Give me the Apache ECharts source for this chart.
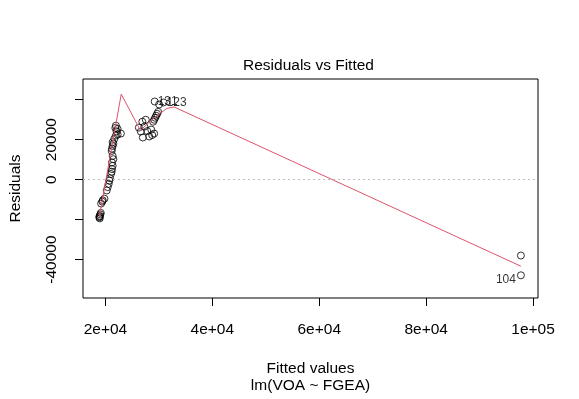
<!DOCTYPE html>
<html>
<head>
<meta charset="utf-8">
<script src="https://cdn.jsdelivr.net/npm/echarts@6/dist/echarts.min.js"></script>
<style>html,body{margin:0;padding:0;background:#fff;}#chart{width:579px;height:399px;}</style>
</head>
<body>
<div id="chart"></div>
<script>
// Fitted values (x) and residuals (y)
const fitted = [
  18853,18946,19038,19131,18946,18890,19186,19501,19815,19408,20240,20425,20610,20740,20851,21036,21165,21221,21350,21221,21479,21350,21165,21221,21350,21479,21350,21664,21960,22275,22885,22090,21849,21960,22275,
  26898,27545,27268,26620,27823,28562,29117,26990,28192,28747,26251,
  28932,29117,29302,29487,29672,29857,
  29209,30042,30874,
  97727,97727
];
const residuals = [
  -18913,-18172,-17431,-16690,-19406,-18419,-11999,-10370,-9530,-11012,-5432,-3753,-2123,-494,691,2815,3950,5284,6913,8592,10222,11851,14320,15505,16789,17974,18764,20443,22073,22567,23060,24196,25875,27011,25381,
  28987,29975,26518,24048,24295,25036,23061,21085,21579,22320,26024,
  28987,29975,30962,31950,32938,33925,
  39109,37628,38615,
  -38000,-47900
];
// Labelled (extreme) observations
const idIndex = [52, 54, 56];
const idNames = ['131', '123', '104'];
const idSide = ['right', 'right', 'left'];
// Smoother (lowess) line
const smoothX = [18853, 22959, 26528, 29117, 31520, 32816, 97727];
const smoothY = [-18700, 42815, 24690, 30962, 35652, 36393, -43356];
// Axis ticks
const xTicks = [20000, 40000, 60000, 80000, 100000];
const xTickLabels = ['2e+04', '4e+04', '6e+04', '8e+04', '1e+05'];
const yTicks = [-40000, -20000, 0, 20000, 40000];
const yLabelTicks = [-40000, 0, 20000];
const yTickLabels = ['-40000', '0', '20000'];

const FONT = '"Liberation Sans", Arial, sans-serif';
const chart = echarts.init(document.getElementById('chart'));

const pts = fitted.map((x, i) => {
  const k = idIndex.indexOf(i);
  const item = { value: [x, residuals[i]] };
  if (k >= 0) {
    item.label = {
      show: true, formatter: idNames[k], position: idSide[k], distance: 1,
      fontSize: 12, color: '#000', fontFamily: FONT,
      offset: idSide[k] === 'left' ? [0, 4] : [-2, 0]
    };
  }
  return item;
});

chart.setOption({
  animation: false,
  backgroundColor: '#fff',
  grid: { left: 79, top: 79, width: 459, height: 222, show: true, borderColor: '#000', borderWidth: 1, backgroundColor: 'transparent' },
  graphic: [
    { type: 'text', x: 308.5, y: 66, style: { text: 'Residuals vs Fitted', fontSize: 15.5, fontFamily: FONT, fill: '#000', textAlign: 'center', textVerticalAlign: 'middle' } }
  ],
  xAxis: {
    type: 'value', min: 15802, max: 100925,
    axisLine: { show: false, onZero: false },
    splitLine: { show: false },
    axisTick: { show: true, customValues: xTicks, length: 8, lineStyle: { color: '#000' } },
    axisLabel: { customValues: xTicks, formatter: v => xTickLabels[xTicks.indexOf(v)], margin: 24, fontSize: 15.5, color: '#000', fontFamily: FONT },
    name: 'Fitted values\nlm(VOA ~ FGEA)', nameLocation: 'middle', nameGap: 62,
    nameTextStyle: { fontSize: 15.5, color: '#000', fontFamily: FONT, lineHeight: 17, verticalAlign: 'top' }
  },
  yAxis: {
    type: 'value', min: -59259, max: 50370,
    axisLine: { show: false, onZero: false },
    splitLine: { show: false },
    axisTick: { show: true, customValues: yTicks, length: 8, lineStyle: { color: '#000' } },
    axisLabel: { customValues: yLabelTicks, formatter: v => yTickLabels[yLabelTicks.indexOf(v)], rotate: 90, margin: 23, fontSize: 15.5, color: '#000', fontFamily: FONT },
    name: 'Residuals', nameLocation: 'middle', nameGap: 59,
    nameTextStyle: { fontSize: 15.5, color: '#000', fontFamily: FONT }
  },
  series: [
    {
      type: 'scatter', data: pts, symbol: 'circle', symbolSize: 7, z: 2,
      itemStyle: { color: 'rgba(0,0,0,0)', borderColor: '#000', borderWidth: 1 },
      markLine: {
        silent: true, symbol: ['none', 'none'], label: { show: false },
        lineStyle: { type: [2, 3], color: '#bebebe', width: 1 },
        data: [{ yAxis: 0 }]
      }
    },
    {
      type: 'line', data: smoothX.map((x, i) => [x, smoothY[i]]), showSymbol: false, z: 3,
      lineStyle: { color: '#DF536B', width: 1 }
    }
  ]
});
</script>
</body>
</html>
